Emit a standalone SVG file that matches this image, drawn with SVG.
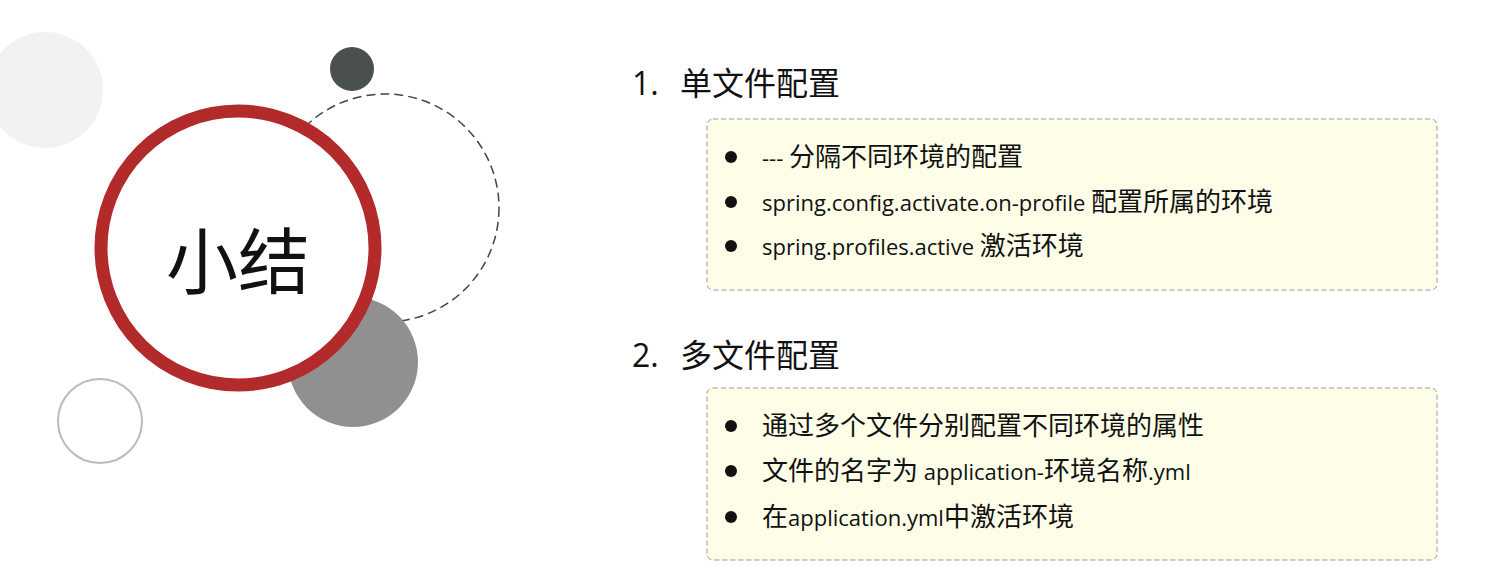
<svg xmlns="http://www.w3.org/2000/svg" width="1511" height="581" viewBox="0 0 1511 581">
<style>
text{font-family:"Open Sans","Noto Sans CJK SC",sans-serif;fill:#111}
.h{font-size:32px}
.t{font-size:22px}
.c{font-size:26px}
.box{fill:#fefee8;stroke:#999;stroke-dasharray:5 3;stroke-width:1}
.dot{fill:#111}
</style>
<rect width="1511" height="581" fill="#fff"/>
<g id="decor">
<circle cx="45" cy="90" r="58" fill="#f2f2f2"/>
<circle cx="352" cy="69" r="22" fill="#4a4f4f"/>
<circle cx="385" cy="208" r="114" fill="none" stroke="#444" stroke-width="1.5" stroke-dasharray="9 5"/>
<circle cx="353" cy="362" r="65" fill="#909090"/>
<circle cx="100" cy="421" r="42" fill="#fff" stroke="#bbb" stroke-width="2"/>
</g>
<g id="title">
<circle cx="238" cy="248" r="137" fill="#fff" stroke="#b22a2a" stroke-width="13"/>
<text x="238" y="288" font-size="72" text-anchor="middle">小结</text>
</g>
<g id="section1">
<text class="h" x="632" y="95">1.</text><text class="h" x="680" y="95">单文件配置</text>
<rect class="box" x="707" y="119" width="730" height="171" rx="6"/>
<circle class="dot" cx="731" cy="157" r="6"/><text class="t" x="762" y="166">---  <tspan class="c">分隔不同环境的配置</tspan></text>
<circle class="dot" cx="731" cy="202" r="6"/><text class="t" x="762" y="211">spring.config.activate.on-profile <tspan class="c">配置所属的环境</tspan></text>
<circle class="dot" cx="731" cy="246" r="6"/><text class="t" x="762" y="255">spring.profiles.active <tspan class="c">激活环境</tspan></text>
</g>
<g id="section2">
<text class="h" x="632" y="367">2.</text><text class="h" x="680" y="367">多文件配置</text>
<rect class="box" x="707" y="388" width="730" height="172" rx="6"/>
<circle class="dot" cx="731" cy="426" r="6"/><text class="t" x="762" y="435"><tspan class="c">通过多个文件分别配置不同环境的属性</tspan></text>
<circle class="dot" cx="731" cy="471" r="6"/><text class="t" x="762" y="480"><tspan class="c">文件的名字为</tspan> application-<tspan class="c">环境名称</tspan>.yml</text>
<circle class="dot" cx="731" cy="517" r="6"/><text class="t" x="762" y="526"><tspan class="c">在</tspan>application.yml<tspan class="c">中激活环境</tspan></text>
</g>
<g id="connectors"/>
</svg>
